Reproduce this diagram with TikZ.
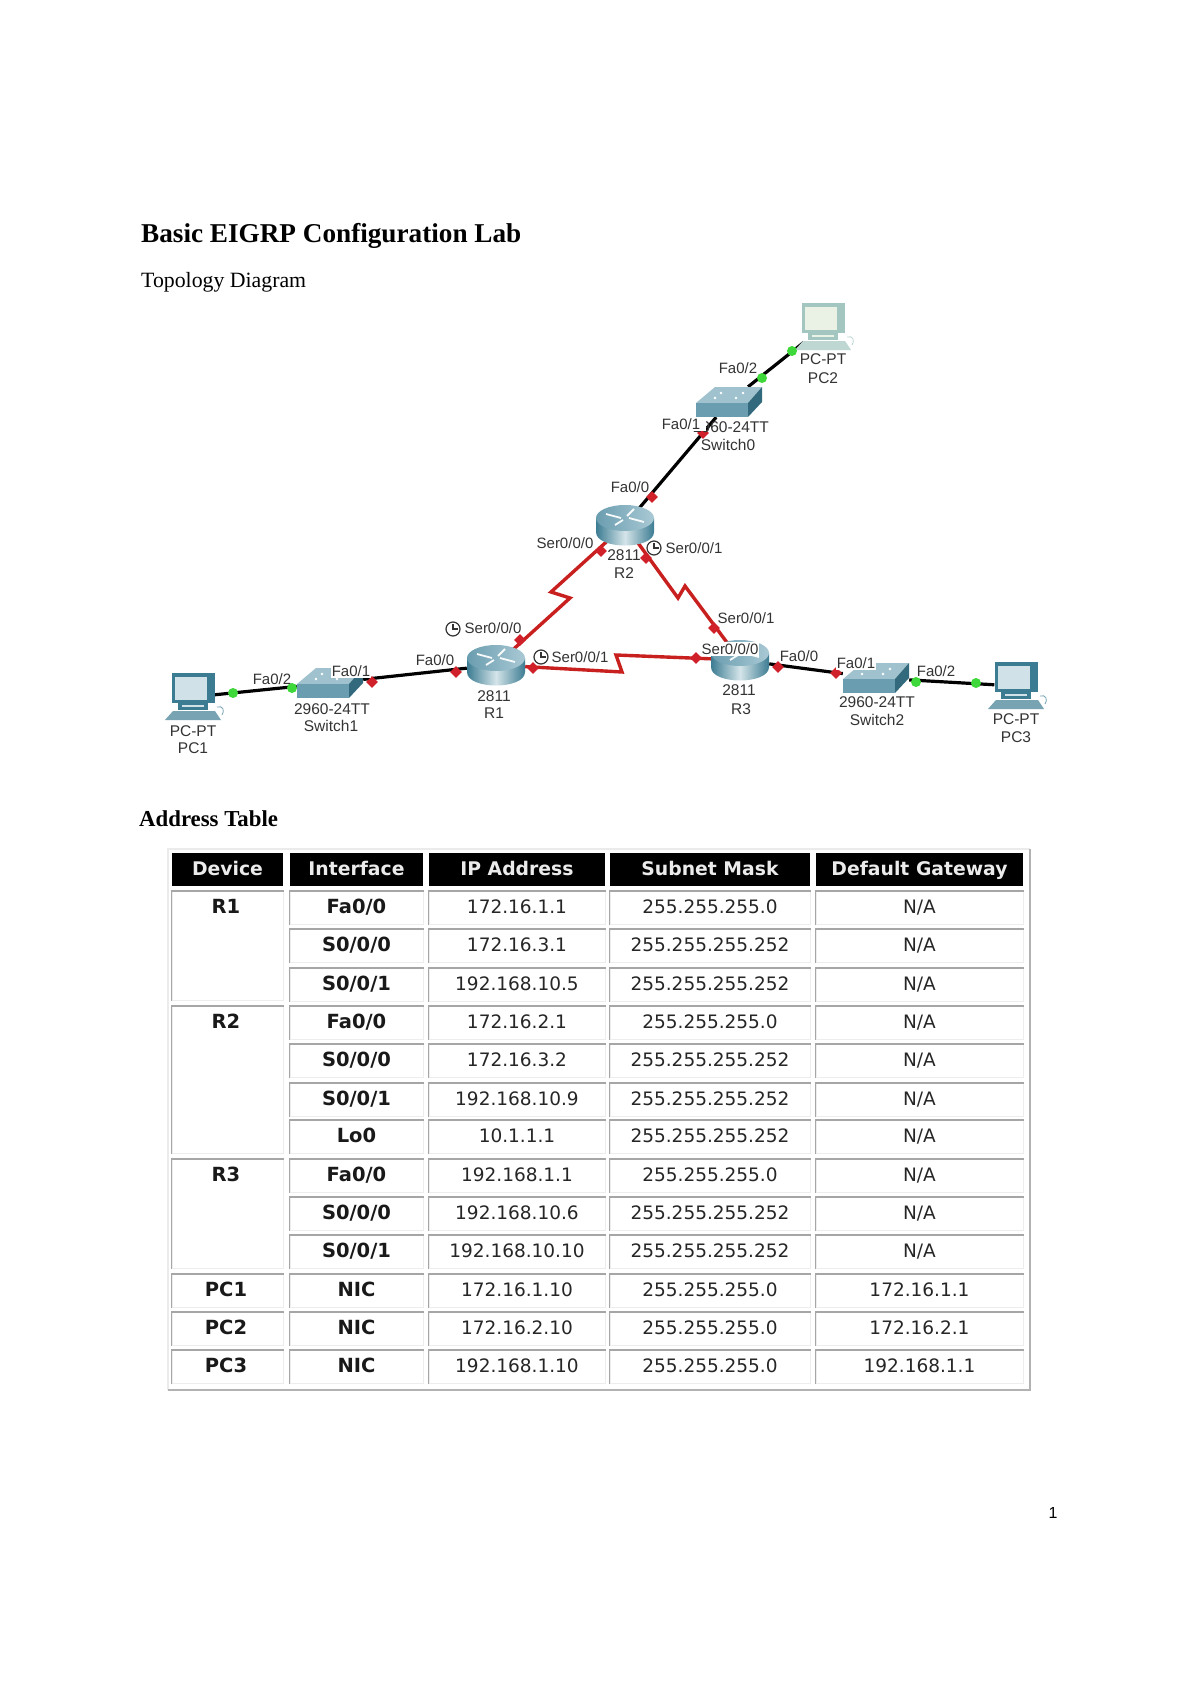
\documentclass[tikz,border=0pt]{standalone}
\usepackage{fontspec}
\usepackage{xcolor}
\setmainfont{Liberation Serif}
\newfontfamily\labelfont{Liberation Sans}
\newfontfamily\tablefont{DejaVu Sans}
\usetikzlibrary{shapes.geometric}

\definecolor{linkred}{HTML}{C8201E}
\definecolor{portgreen}{HTML}{3FD83A}
\definecolor{portred}{HTML}{D0202A}
\definecolor{labelgray}{HTML}{333333}
\definecolor{tealdark}{HTML}{3C7C92}
\definecolor{tealmid}{HTML}{6A9DB0}
\definecolor{teallight}{HTML}{A9C9D4}
\definecolor{palemonitor}{HTML}{A3C6C0}
\definecolor{palescreen}{HTML}{EAF2E6}

\tikzset{
    anchorbox/.style={inner sep=0, minimum width=#1, minimum height=30pt},
    fastlink/.style={black, line width=3.2pt},
    seriallink/.style={linkred, line width=3.4pt, line join=miter},
    upport/.style={circle, fill=portgreen, inner sep=0, minimum size=10pt},
    serport/.style={diamond, fill=portred, inner sep=0, minimum size=12pt},
    portlabel/.style={font=\labelfont\fontsize{15}{15}\selectfont, text=labelgray, inner sep=1pt},
    whitelabel/.style={portlabel, fill=white},
    devlabel/.style={font=\labelfont\fontsize{15.5}{15.5}\selectfont, text=labelgray, inner sep=0},
    cellbox/.style={draw=black!7, line width=1pt, inner sep=0, text height=13pt, text depth=2.5pt, anchor=north, font=\tablefont\fontsize{18.5}{18.5}\selectfont, text=black!85},
    boldcell/.style={cellbox, font=\tablefont\bfseries\fontsize{19.5}{19.5}\selectfont, text=black!90},
    headcell/.style={fill=black, inner sep=0, minimum height=33pt, text height=15pt, text depth=2.5pt, font=\tablefont\bfseries\fontsize{18.8}{18.8}\selectfont, text=white!92!black},
    cellrule/.style={draw=black!35, line width=1.6pt},
    pics/routericon/.style={code={
        \shade[left color=tealdark, right color=tealdark, middle color=teallight!50!white]
            (-29,-7) -- (-29,7) .. controls (-29,25) and (29,25) .. (29,7) -- (29,-7) -- cycle;
        \shade[left color=tealmid, right color=teallight] (0,-7) ellipse [x radius=29, y radius=13];
        \draw[white!90!teallight, line width=1.8pt] (-19,-11) -- (-4,-7) (4,-7) -- (19,-3) (9,-16) -- (2,-9) (-2,-5) -- (-10,0);
    }},
    pics/switchicon/.style={code={
        \fill[teallight!85!tealmid] (-33,1) -- (-14,-15) -- (33,-15) -- (19,1) -- cycle;
        \fill[tealmid] (-33,1) rectangle (19,15);
        \fill[tealdark!85!black] (19,1) -- (33,-15) -- (33,0) -- (19,15) -- cycle;
        \fill[white] (-8,-9) circle (1.3) (14,-9) circle (1.3) (-14,-4) circle (1.3) (7,-4) circle (1.3);
    }},
    pics/pcicon/.style 2 args={code={
        \fill[#1] (-21,-24) rectangle (22,6);
        \fill[#2] (-18,-20) rectangle (14,3);
        \fill[#1] (-15,6) rectangle (15,13);
        \fill[#2] (-11,8) rectangle (11,10);
        \fill[#1!70!white] (-28,23) -- (-20,14) -- (22,14) -- (28,23) -- cycle;
        \draw[#1!70!white, line width=0.8pt] (24,10) .. controls (30,8) and (32,14) .. (29,18);
    }},
    pics/clockicon/.style={code={
        \draw[labelgray, line width=1.2pt] (0,0) circle (7);
        \draw[labelgray, line width=1.2pt] (0,-5) -- (0,0) -- (5,0);
    }}
}

\begin{document}
\begin{tikzpicture}[x=1pt, y=-1pt]

    \useasboundingbox (0,0) rectangle (1200,1696);
    \fill[white] (0,0) rectangle (1200,1696);

    % Headings
    \node[anchor=west, inner sep=0, font=\bfseries\fontsize{27.2}{27.2}\selectfont] (title) at (141,236) {Basic EIGRP Configuration Lab};
    \node[anchor=west, inner sep=0, font=\fontsize{21.8}{21.8}\selectfont] (topohead) at (141,282) {Topology Diagram};
    \node[anchor=west, inner sep=0, font=\bfseries\fontsize{22.8}{22.8}\selectfont] (addrhead) at (139,819) {Address Table};
    \node[inner sep=0, font=\labelfont\fontsize{16}{16}\selectfont] (pagenum) at (1053,1513) {1};

    % Devices
    \node[anchorbox=58pt] (R1) at (496,665) {};
    \node[anchorbox=58pt] (R2) at (625,525) {};
    \node[anchorbox=58pt] (R3) at (740,660) {};
    \node[anchorbox=66pt] (Sw0) at (729,402) {};
    \node[anchorbox=66pt] (Sw1) at (330,683) {};
    \node[anchorbox=66pt] (Sw2) at (876,678) {};
    \node[anchorbox=43pt] (PC1) at (193,697) {};
    \node[anchorbox=43pt] (PC2) at (823,327) {};
    \node[anchorbox=43pt] (PC3) at (1016,686) {};

    % Zigzags of the serial links
    \coordinate (zigA) at (551,592);
    \coordinate (zigB) at (570,598);
    \coordinate (zigC) at (678,598);
    \coordinate (zigD) at (685,586);
    \coordinate (zigE) at (622,672);
    \coordinate (zigF) at (616,655);

    % Links
    \draw[fastlink] (PC1) -- (Sw1);
    \draw[fastlink] (Sw1) -- (R1);
    \draw[fastlink] (R2) -- (Sw0);
    \draw[fastlink] (Sw0) -- (PC2);
    \draw[fastlink] (R3) -- (Sw2);
    \draw[fastlink] (Sw2) -- (PC3);
    \draw[seriallink] (R2) -- (zigA) -- (zigB) -- (R1);
    \draw[seriallink] (R2) -- (zigC) -- (zigD) -- (R3);
    \draw[seriallink] (R1) -- (zigE) -- (zigF) -- (R3);

    % Icons
    \pic at (R1) {routericon};
    \pic at (R2) {routericon};
    \pic at (R3) {routericon};
    \pic at (Sw0) {switchicon};
    \pic at (Sw1) {switchicon};
    \pic at (Sw2) {switchicon};
    \pic at (PC1) {pcicon={tealdark}{teallight!55!white}};
    \pic at (PC2) {pcicon={palemonitor}{palescreen}};
    \pic at (PC3) {pcicon={tealdark}{teallight!55!white}};

    % Port lights
    \foreach \portname/\portxy in {pgA/{233,693}, pgB/{292,688}, pgC/{792,351}, pgD/{762,378}, pgE/{916,682}, pgF/{976,683}}
        \node[upport] (\portname) at (\portxy) {};
    \foreach \portname/\portxy in {prA/{372,682}, prB/{456,672}, prC/{703,433}, prD/{652,497}, prE/{778,667}, prF/{836,673}, prG/{601,551}, prH/{520,640}, prI/{646,558}, prJ/{714,628}, prK/{533,668}, prL/{696,658}}
        \node[serport] (\portname) at (\portxy) {};

    % Port labels
    \node[portlabel] (fa02a) at (272,679) {Fa0/2};
    \node[whitelabel] (fa01a) at (351,671) {Fa0/1};
    \node[portlabel] (fa00a) at (435,660) {Fa0/0};
    \node[portlabel] (ser00a) at (493,628) {Ser0/0/0};
    \node[portlabel] (ser01a) at (580,657) {Ser0/0/1};
    \node[portlabel] (fa00b) at (630,487) {Fa0/0};
    \node[portlabel] (ser00b) at (565,543) {Ser0/0/0};
    \node[portlabel] (ser01b) at (694,548) {Ser0/0/1};
    \node[portlabel] (fa02b) at (738,368) {Fa0/2};
    \node[portlabel] (ser01c) at (746,618) {Ser0/0/1};
    \node[whitelabel] (ser00c) at (730,649) {Ser0/0/0};
    \node[portlabel] (fa00c) at (799,656) {Fa0/0};
    \node[whitelabel] (fa01c) at (856,663) {Fa0/1};
    \node[portlabel] (fa02c) at (936,671) {Fa0/2};

    % Clocks
    \pic at (453,629) {clockicon};
    \pic at (541,657) {clockicon};
    \pic at (654,548) {clockicon};

    % Device labels
    \node[devlabel] (pcA) at (193,731) {PC-PT};
    \node[devlabel] (pcAname) at (193,748) {PC1};
    \node[devlabel] (swA) at (332,709) {2960-24TT};
    \node[devlabel] (swAname) at (331,726) {Switch1};
    \node[devlabel] (rtA) at (494,696) {2811};
    \node[devlabel] (rtAname) at (494,713) {R1};
    \node[devlabel] (rtB) at (624,555) {2811};
    \node[devlabel] (rtBname) at (624,573) {R2};
    \node[devlabel] (rtC) at (739,690) {2811};
    \node[devlabel] (rtCname) at (741,709) {R3};
    \node[devlabel] (swB) at (731,427) {2960-24TT};
    \node[whitelabel, inner xsep=6pt] (fa01b) at (681,424) {Fa0/1};
    \node[devlabel] (swBname) at (728,445) {Switch0};
    \node[devlabel] (pcB) at (823,359) {PC-PT};
    \node[devlabel] (pcBname) at (823,378) {PC2};
    \node[devlabel] (swC) at (877,702) {2960-24TT};
    \node[devlabel] (swCname) at (877,720) {Switch2};
    \node[devlabel] (pcC) at (1016,719) {PC-PT};
    \node[devlabel] (pcCname) at (1016,737) {PC3};

    % Table frame
    \draw[black!8, line width=1.5pt] (168,1390) -- (168,849) -- (1030,849);
    \draw[black!30, line width=1.5pt] (168,1390) -- (1030,1390) -- (1030,849);

    % Table head
    \node[headcell, minimum width=111pt] (headdev) at (227.5,869.5) {Device};
    \node[headcell, minimum width=133pt] (headifc) at (356.5,869.5) {Interface};
    \node[headcell, minimum width=176pt] (headip) at (517,869.5) {IP Address};
    \node[headcell, minimum width=200pt] (headmask) at (710,869.5) {Subnet Mask};
    \node[headcell, minimum width=207pt] (headgate) at (919.5,869.5) {Default Gateway};

    % Device column
    \foreach \dev/\rowtop/\rowh in {R1/891/109, R2/1006/147, R3/1159/109, PC1/1274/33, PC2/1312/33, PC3/1350/33} {
        \node[cellbox, minimum width=111pt, minimum height=\rowh pt] (cell\dev) at (227.5,\rowtop) {};
        \node[boldcell, draw=none] (name\dev) at (226,\rowtop+8.5) {\dev};
        \draw[cellrule] (cell\dev.south west) |- (cell\dev.north east);
    }

    % Table rows
    \foreach \rowtop/\ifc/\ipaddr/\msk/\gwy [count=\rownum] in {
        891/{Fa0/0}/172.16.1.1/255.255.255.0/{N/A},
        929/{S0/0/0}/172.16.3.1/255.255.255.252/{N/A},
        968/{S0/0/1}/192.168.10.5/255.255.255.252/{N/A},
        1006/{Fa0/0}/172.16.2.1/255.255.255.0/{N/A},
        1044/{S0/0/0}/172.16.3.2/255.255.255.252/{N/A},
        1083/{S0/0/1}/192.168.10.9/255.255.255.252/{N/A},
        1120/{Lo0}/10.1.1.1/255.255.255.252/{N/A},
        1159/{Fa0/0}/192.168.1.1/255.255.255.0/{N/A},
        1197/{S0/0/0}/192.168.10.6/255.255.255.252/{N/A},
        1235/{S0/0/1}/192.168.10.10/255.255.255.252/{N/A},
        1274/{NIC}/172.16.1.10/255.255.255.0/172.16.1.1,
        1312/{NIC}/172.16.2.10/255.255.255.0/172.16.2.1,
        1350/{NIC}/192.168.1.10/255.255.255.0/192.168.1.1} {
        \node[boldcell, minimum width=133pt, minimum height=33pt] (ifc\rownum) at (356.5,\rowtop) {\ifc};
        \node[cellbox, minimum width=176pt, minimum height=33pt] (ipa\rownum) at (517,\rowtop) {\ipaddr};
        \node[cellbox, minimum width=200pt, minimum height=33pt] (mask\rownum) at (710,\rowtop) {\msk};
        \node[cellbox, minimum width=207pt, minimum height=33pt] (gate\rownum) at (919.5,\rowtop) {\gwy};
        \foreach \col in {ifc,ipa,mask,gate}
            \draw[cellrule] (\col\rownum.south west) |- (\col\rownum.north east);
    }

\end{tikzpicture}
\end{document}
